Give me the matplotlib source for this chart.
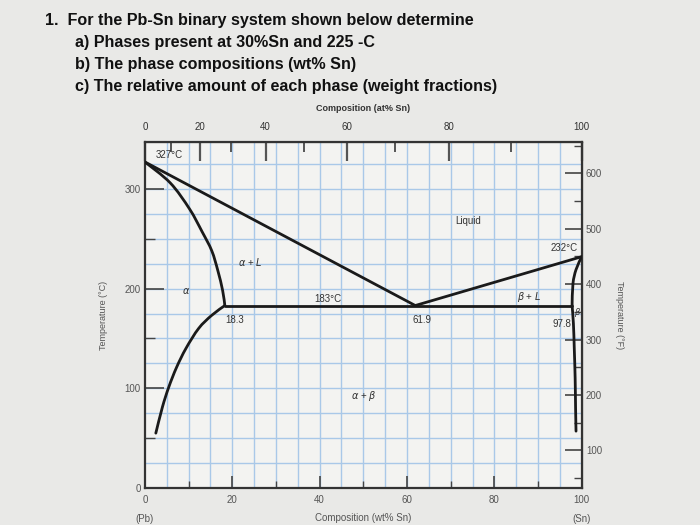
import numpy as np
import matplotlib.pyplot as plt
from matplotlib.ticker import MultipleLocator, FixedLocator
from matplotlib.path import Path
from matplotlib.patches import PathPatch

# ---- data (wt% Sn, temperature in C) ----
liq_left_x = [0, 61.9]
liq_left_t = [327, 183]
liq_right_x = [61.9, 100]
liq_right_t = [183, 232]
sol_alpha_x = [0, 5.8, 10.2, 13.1, 15.3, 16.7, 17.8, 18.3]
sol_alpha_t = [327, 306, 280, 257, 238, 218, 198, 183]
solv_alpha_x = [18.3, 15.25, 12.3, 9.4, 7.25, 5.45, 4.0, 2.5]
solv_alpha_t = [183, 173, 160, 140, 121, 101, 81, 55]
sol_beta_x = [100, 98.7, 98.0, 97.8]
sol_beta_t = [232, 219, 205, 183]
solv_beta_x = [97.8, 98.1, 98.3, 98.5, 98.6, 98.7]
solv_beta_t = [183, 165, 140, 110, 80, 57]
eut_x = [18.3, 97.8]
eut_t = [183, 183]

at_ticks = [0, 20, 40, 60, 80, 100]
at_minor = [10, 30, 50, 70, 90]
f_ticks = [100, 200, 300, 400, 500, 600]
f_minor = [50, 150, 250, 350, 450, 550, 650]

questions = [
    "1.  For the Pb-Sn binary system shown below determine",
    "a) Phases present at 30%Sn and 225 -C",
    "b) The phase compositions (wt% Sn)",
    "c) The relative amount of each phase (weight fractions)",
]

MSN, MPB = 118.71, 207.2

def wt2at(w):
    w = np.asarray(w, dtype=float)
    with np.errstate(divide='ignore', invalid='ignore'):
        return 100 * (w / MSN) / (w / MSN + (100 - w) / MPB)

def at2wt(a):
    a = np.asarray(a, dtype=float)
    with np.errstate(divide='ignore', invalid='ignore'):
        return 100 * a * MSN / (a * MSN + (100 - a) * MPB)

def c2f(c):
    return np.asarray(c) * 9 / 5 + 32

def f2c(f):
    return (np.asarray(f) - 32) * 5 / 9

def smooth_path(xs, ts):
    """Catmull-Rom through the read points, drawn as cubic Bezier segments."""
    p = np.column_stack([xs, ts]).astype(float)
    n = len(p)
    verts = [p[0]]
    codes = [Path.MOVETO]
    for i in range(n - 1):
        p0 = p[i - 1] if i > 0 else p[i]
        p1 = p[i]
        p2 = p[i + 1]
        p3 = p[i + 2] if i + 2 < n else p[i + 1]
        c1 = p1 + (p2 - p0) / 6
        c2 = p2 - (p3 - p1) / 6
        verts += [c1, c2, p2]
        codes += [Path.CURVE4] * 3
    return Path(verts, codes)

plt.rcParams['font.family'] = ['Liberation Sans', 'DejaVu Sans']

fig = plt.figure(figsize=(7, 5.25), dpi=100, facecolor='#e9e9e7')
ax = fig.add_axes([0.207, 0.0705, 0.624, 0.659])
ax.set_facecolor('#f3f3f1')

# question text
fig.text(45/700, 1 - 20/525, questions[0], fontsize=11.6, fontweight='bold',
         va='center', ha='left', color='#111')
for i, q in enumerate(questions[1:]):
    fig.text(75/700, 1 - (42 + 22.5*i)/525, q, fontsize=11.6, fontweight='bold',
             va='center', ha='left', color='#111')

ax.set_xlim(0, 100)
ax.set_ylim(0, 347)

# grid
for gx in np.arange(5, 100, 5):
    ax.axvline(gx, color='#a9c8e8', lw=1.0, zorder=0)
for gy in np.arange(25, 347, 25):
    ax.axhline(gy, color='#a9c8e8', lw=1.0, zorder=0)

lw = 2.0
lc = '#1a1a1a'
for xs, ts in [(liq_left_x, liq_left_t), (liq_right_x, liq_right_t), (eut_x, eut_t)]:
    ax.plot(xs, ts, color=lc, lw=lw, solid_capstyle='round', zorder=3)
for xs, ts in [(sol_alpha_x, sol_alpha_t), (solv_alpha_x, solv_alpha_t),
               (sol_beta_x, sol_beta_t), (solv_beta_x, solv_beta_t)]:
    ax.add_patch(PathPatch(smooth_path(xs, ts), facecolor='none', edgecolor=lc,
                           lw=lw, capstyle='round', zorder=3))

tc = '#333'
fs = 7
ax.text(2.5, 329, "327°C", fontsize=fs, color=tc, ha='left', va='bottom')
ax.text(74, 268, "Liquid", fontsize=fs, color=tc, ha='center', va='center')
ax.text(24, 227, r"$\alpha$ + $L$", fontsize=fs, color=tc, ha='center', va='center')
ax.text(9.5, 198, r"$\alpha$", fontsize=fs, color=tc, ha='center', va='center')
ax.text(42, 190, "183°C", fontsize=fs, color=tc, ha='center', va='center')
ax.text(20.5, 168, "18.3", fontsize=fs, color=tc, ha='center', va='center')
ax.text(63.5, 168, "61.9", fontsize=fs, color=tc, ha='center', va='center')
ax.text(88, 192, r"$\beta$ + $L$", fontsize=fs, color=tc, ha='center', va='center')
ax.text(99, 236, "232°C", fontsize=fs, color=tc, ha='right', va='bottom')
ax.text(95.5, 164, "97.8", fontsize=fs, color=tc, ha='center', va='center')
ax.text(99.0, 176, r"$\beta$", fontsize=6, color=tc, ha='center', va='center')
ax.text(50, 92, r"$\alpha$ + $\beta$", fontsize=fs, color=tc, ha='center', va='center')

for s in ax.spines.values():
    s.set_color('#333')
    s.set_linewidth(1.6)

# bottom axis
ax.set_xticks([0, 20, 40, 60, 80, 100])
ax.xaxis.set_minor_locator(MultipleLocator(10))
ax.tick_params(axis='x', which='major', direction='in', length=9, width=1.2,
               labelsize=7, labelcolor='#555', color='#444', pad=5)
ax.tick_params(axis='x', which='minor', direction='in', length=5, width=1.0, color='#444')
ax.set_xlabel("Composition (wt% Sn)", fontsize=7, color='#555', labelpad=6)
ax.text(0, -0.09, "(Pb)", transform=ax.transAxes, fontsize=7, color='#555', ha='center', va='center')
ax.text(1.0, -0.09, "(Sn)", transform=ax.transAxes, fontsize=7, color='#555', ha='center', va='center')

# left axis
ax.set_yticks([0, 100, 200, 300])
ax.yaxis.set_minor_locator(FixedLocator([50, 150, 250]))
ax.tick_params(axis='y', which='major', direction='in', length=14, width=1.2,
               labelsize=7, labelcolor='#555', color='#444', pad=3)
ax.tick_params(axis='y', which='minor', direction='in', length=7, width=1.0, color='#444')
ax.set_ylabel("Temperature (°C)", fontsize=6.5, color='#555', labelpad=12)

# top axis (at%)
top = ax.secondary_xaxis('top', functions=(wt2at, at2wt))
top.set_xticks(at_ticks)
top.xaxis.set_minor_locator(FixedLocator(at_minor))
top.tick_params(which='major', direction='in', length=14, width=1.6, labelsize=7,
                labelcolor='#333', color='#555', pad=7)
top.tick_params(which='minor', direction='in', length=7, width=1.4, color='#555')
top.set_xlabel("Composition (at% Sn)", fontsize=6.5, color='#333', fontweight='bold', labelpad=8)

# right axis (F)
right = ax.secondary_yaxis('right', functions=(c2f, f2c))
right.set_yticks(f_ticks)
right.yaxis.set_minor_locator(FixedLocator(f_minor))
right.tick_params(which='major', direction='in', length=12, width=1.2, labelsize=7,
                  labelcolor='#555', color='#444', pad=3)
right.tick_params(which='minor', direction='in', length=6, width=1.0, color='#444')
right.set_ylabel("Temperature (°F)", fontsize=6.5, color='#555', rotation=270, labelpad=16)

fig.savefig("out.png", dpi=100, facecolor=fig.get_facecolor())
